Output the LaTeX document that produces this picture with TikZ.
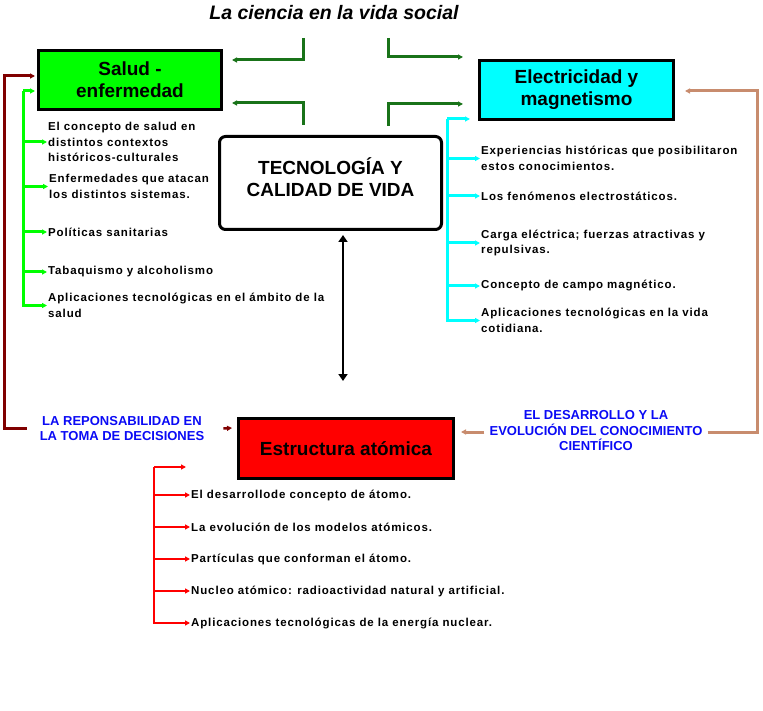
\documentclass[tikz,border=0pt]{standalone}
\usepackage{fontspec}
\setmainfont{Liberation Sans}
\newfontfamily\itemfont{Liberation Sans}[LetterSpace=7.5]
\usetikzlibrary{arrows.meta}

\definecolor{leafgreen}{RGB}{0,255,0}
\definecolor{leafcyan}{RGB}{0,255,255}
\definecolor{leafred}{RGB}{255,0,0}
\definecolor{pinegreen}{RGB}{25,115,25}
\definecolor{wine}{RGB}{128,0,0}
\definecolor{clay}{RGB}{200,140,110}
\definecolor{notblue}{RGB}{10,10,245}

\begin{document}
\begin{tikzpicture}[x=1pt, y=-1pt,
  topicbox/.style={rectangle, draw, line width=3pt, align=center, inner sep=0pt, font=\fontsize{19}{22}\selectfont\bfseries},
  item/.style={anchor=west, inner sep=1pt, align=left, font={\itemfont\fontsize{11.5}{15.5}\selectfont\bfseries}},
  note/.style={align=center, text=notblue, inner sep=1pt, font=\fontsize{13}{15.5}\selectfont\bfseries},
  branch/.style={-{Triangle[length=5pt,width=5pt]}, line width=3pt},
  elbow/.style={-{Triangle[length=5pt,width=5pt]}, line width=3pt, pinegreen}
]
  \useasboundingbox (0,0) rectangle (763,711);

  % Title
  \node[font=\fontsize{19.5}{21}\selectfont\bfseries\itshape] (title) at (334,13) {La ciencia en la vida social};

  % Main boxes
  \node[topicbox, fill=leafgreen, minimum width=183pt, minimum height=59pt] (salud) at (130,80) {Salud -\\enfermedad};
  \node[topicbox, fill=leafcyan, minimum width=194pt, minimum height=59pt] (elec) at (576.5,90) {Electricidad y\\magnetismo};
  \node[topicbox, fill=white, rounded corners=6pt, minimum width=222pt, minimum height=93pt] (tec) at (330.5,183) {TECNOLOGÍA Y\\CALIDAD DE VIDA\\[-10pt]};
  \node[topicbox, fill=leafred, minimum width=215pt, minimum height=60pt] (atom) at (346,448.5) {Estructura atómica};

  % Salud items
  \node[item] (s1) at (47,142) {El concepto de salud en\\distintos contextos\\históricos-culturales};
  \node[item] (s2) at (48,186.5) {Enfermedades que atacan\\los distintos sistemas.};
  \node[item] (s3) at (47,232) {Políticas sanitarias};
  \node[item] (s4) at (47,272) {Tabaquismo y alcoholismo};
  \node[item] (s5) at (47,305.5) {Aplicaciones tecnológicas en el ámbito de la\\salud};

  % Electricidad items
  \node[item] (e1) at (480,158.5) {Experiencias históricas que posibilitaron\\estos conocimientos.};
  \node[item] (e2) at (480,196) {Los fenómenos electrostáticos.};
  \node[item] (e3) at (480,243) {Carga eléctrica; fuerzas atractivas y\\repulsivas.};
  \node[item] (e4) at (480,286) {Concepto de campo magnético.};
  \node[item] (e5) at (480,320.5) {Aplicaciones tecnológicas en la vida\\cotidiana.};

  % Estructura items
  \node[item] (a1) at (190,495) {El desarrollode concepto de átomo.};
  \node[item] (a2) at (190,527) {La evolución de los modelos atómicos.};
  \node[item] (a3) at (190,559) {Partículas que conforman el átomo.};
  \node[item] (a4) at (190,591) {Nucleo atómico: radioactividad natural y artificial.};
  \node[item] (a5) at (190,623) {Aplicaciones tecnológicas de la energía nuclear.};

  % Blue notes
  \node[note] (resp) at (122,428.5) {LA REPONSABILIDAD EN\\LA TOMA DE DECISIONES};
  \node[note] (desa) at (596,431) {EL DESARROLLO Y LA\\EVOLUCIÓN DEL CONOCIMIENTO\\CIENTÍFICO};

  % Branches
  \coordinate (gtop) at (23,91);
  \coordinate (gin) at (35,91);
  \draw[branch, leafgreen] (gtop) -- (gin);
  \foreach \i in {1,...,5}
    \draw[branch, leafgreen] (gtop) |- (s\i.west);

  \coordinate (ctop) at (447,119);
  \coordinate (cin) at (470,119);
  \draw[branch, leafcyan] (ctop) -- (cin);
  \foreach \i in {1,...,5}
    \draw[branch, leafcyan] (ctop) |- (e\i.west);

  \coordinate (rtop) at (154,467);
  \coordinate (rin) at (186,467);
  \draw[branch, leafred, line width=2.5pt] (rtop) -- (rin);
  \foreach \i in {1,...,5}
    \draw[branch, leafred, line width=2.5pt] (rtop) |- (a\i.west);

  % Elbows round the title
  \coordinate (tl) at (303,38);
  \coordinate (bl) at (303,125);
  \coordinate (tr) at (388,38);
  \coordinate (br) at (388,126);
  \draw[elbow] (tl) |- (232,60);
  \draw[elbow] (bl) |- (232,103);
  \draw[elbow] (tr) |- (463,57);
  \draw[elbow] (br) |- (463,104);

  % Links
  \coordinate (tecdown) at (343,235);
  \coordinate (atomup) at (343,381);
  \draw[{Triangle[length=7pt,width=9pt]}-{Triangle[length=7pt,width=9pt]}, line width=2.5pt] (tecdown) -- (atomup);

  \coordinate (saludin) at (35,76);
  \draw[branch, wine] ([xshift=-12pt]resp.west) -| (4,76) -- (saludin);
  \draw[branch, wine, line width=2.5pt] ([xshift=18pt]resp.east) -- ([xshift=-5pt]atom.west |- 0,428);

  \coordinate (elecin) at (685,91);
  \draw[branch, clay] ([xshift=4pt]desa.east |- 0,432) -| (757,91) -- (elecin);
  \draw[branch, clay] ([xshift=-4pt]desa.west |- 0,432) -- ([xshift=6pt]atom.east |- 0,432);
\end{tikzpicture}
\end{document}
